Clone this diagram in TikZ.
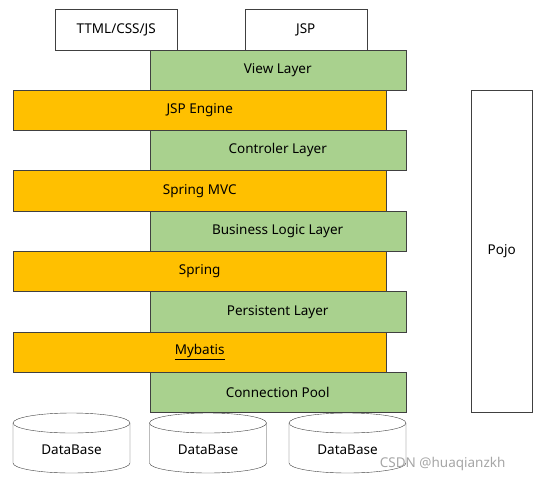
\documentclass[tikz,border=0pt]{standalone}
\usepackage{fontspec}
\setmainfont{Noto Sans}
\usepackage{tikz}
\usetikzlibrary{positioning}
\definecolor{layergreen}{HTML}{A9D18E}
\definecolor{engineorange}{HTML}{FFC000}

\begin{document}
\begin{tikzpicture}[x=1pt,y=-1pt,font=\fontsize{13.5}{16}\selectfont,
  layer/.style={draw=black!75,fill=layergreen,minimum width=256pt,minimum height=40.3pt,inner sep=0pt,anchor=north west},
  engine/.style={draw=black!75,fill=engineorange,minimum width=373pt,minimum height=40.3pt,inner sep=0pt,anchor=north west},
  pagebox/.style={draw=black!75,fill=white,minimum width=122pt,minimum height=40.5pt,inner sep=0pt,anchor=north west}]
\useasboundingbox (0,0) rectangle (540,482);

% front end pages
\node [pagebox] (html) at (55,9) {TTML/CSS/JS};
\node [pagebox] (jsp) at (244.5,9) {JSP};

% layers and frameworks
\foreach \name/\row/\label in {view/0/View Layer,ctrl/2/Controler Layer,logic/4/Business Logic Layer,persist/6/Persistent Layer,pool/8/Connection Pool}{
 \node [layer] (\name) at (149.5,49.5+40.3*\row) {\label};
 }
\foreach \name/\row/\label in {jspengine/1/JSP Engine,springmvc/3/Spring MVC,spring/5/Spring,mybatis/7/\underline{Mybatis}}{
 \node [engine] (\name) at (13,49.5+40.3*\row) {\label};
 }

\node [draw=black!75,minimum width=61pt,minimum height=322pt,inner sep=0pt,anchor=north west] (pojo) at (471,90) {Pojo};

% databases
\foreach \cx/\name in {71.5/dba,208/dbb,347.5/dbc}{
 \draw [draw=black!75,fill=white] (\cx-58.5,423) -- (\cx-58.5,463) arc [start angle=180,end angle=0,x radius=58.5,y radius=10] -- (\cx+58.5,423);
 \draw [draw=black!75,fill=white] (\cx,423) ellipse [x radius=58.5,y radius=10];
 \node (\name) at (\cx,450) {DataBase};
 }

\node [text=black!35,anchor=east] (mark) at (509,464) {CSDN @huaqianzkh};
\end{tikzpicture}
\end{document}
